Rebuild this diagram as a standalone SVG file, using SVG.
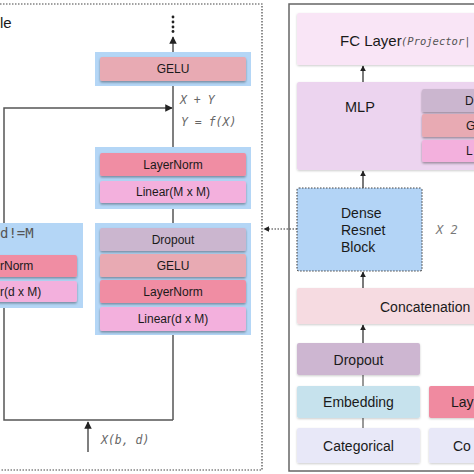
<svg xmlns="http://www.w3.org/2000/svg" width="474" height="474" viewBox="0 0 474 474">
<defs>
<marker id="ah" viewBox="0 0 10 10" refX="9" refY="5" markerWidth="5" markerHeight="5" orient="auto"><path d="M0,0 L10,5 L0,10 z" fill="#222"/></marker>
<filter id="sh" x="-5%" y="-20%" width="110%" height="150%"><feDropShadow dx="0" dy="1.5" stdDeviation="0.8" flood-color="#000" flood-opacity="0.35"/></filter>
<filter id="sh2" x="-5%" y="-20%" width="110%" height="150%"><feDropShadow dx="0" dy="1" stdDeviation="0.8" flood-color="#000" flood-opacity="0.2"/></filter>
</defs>
<style>
.t{font-family:"Liberation Sans",Arial,sans-serif;fill:#1a1a1a;text-anchor:middle;dominant-baseline:central}
.s{font-size:12px}
.l{font-size:14px}
.m{font-family:"DejaVu Sans Mono","Liberation Mono",monospace;font-style:italic;fill:#666;font-size:11.5px;dominant-baseline:central}
.bg{fill:#b4d6f6}
.gelu{fill:#e8aab3}
.ln{fill:#f08da3}
.lin{fill:#f3b0dd}
.drop{fill:#cbb6cf}
.line{stroke:#555;stroke-width:1.5;fill:none}
</style>
<rect width="474" height="474" fill="#fff"/>

<!-- left panel border -->
<path d="M0,4 H262 V470 H0" fill="none" stroke="#444" stroke-width="1.2" stroke-dasharray="1.5,1.5"/>
<text x="0" y="22" class="t" style="text-anchor:start;font-size:15px">le</text>

<!-- right panel border -->
<path d="M474,4 H289 V471 H474" fill="none" stroke="#666" stroke-width="1.5"/>

<g id="connectors">
<path d="M173,420 V335" class="line"/>
<path d="M173,420 H4 V108 H172" class="line" stroke="#333" marker-end="url(#ah)"/>
<path d="M88,452 V422" class="line" stroke="#333" marker-end="url(#ah)"/>
<path d="M173,209 V223" class="line"/>
<path d="M173,86 V147" class="line"/>
<path d="M173,52 V37" class="line" stroke="#333" marker-end="url(#ah)"/>
<circle cx="173" cy="17" r="1.4" fill="#222"/>
<circle cx="173" cy="22" r="1.4" fill="#222"/>
<circle cx="173" cy="27" r="1.4" fill="#222"/>
<circle cx="173" cy="31.5" r="1.4" fill="#222"/>
<path d="M363,82 V66" stroke="#222" stroke-width="1.2" marker-end="url(#ah)"/>
<path d="M363,188 V171" stroke="#222" stroke-width="1.2" marker-end="url(#ah)"/>
<path d="M363,288 V272" stroke="#222" stroke-width="1.2" marker-end="url(#ah)"/>
<path d="M363,343 V325" stroke="#222" stroke-width="1.2" marker-end="url(#ah)"/>
<path d="M363,386 V375" stroke="#555" stroke-width="1.2"/>
<path d="M363,428 V418" stroke="#555" stroke-width="1.2"/>
<path d="M297,229 H264" stroke="#333" stroke-width="1.2" stroke-dasharray="1.5,1.5" marker-end="url(#ah)"/>
</g>

<text x="180" y="100" class="m">X + Y</text>
<text x="181" y="122" class="m">Y = f(X)</text>
<text x="101" y="440" class="m">X(b, d)</text>

<g id="proj">
<rect x="-83" y="223" width="166" height="85" class="bg"/>
<text x="0" y="233" class="m" style="font-style:normal;font-size:14px;fill:#555">d!=M</text>
<rect x="-77" y="255" width="154" height="22" rx="2" class="ln" filter="url(#sh)"/>
<text x="0" y="266" class="t s" style="text-anchor:start">rNorm</text>
<rect x="-77" y="281" width="154" height="21" rx="2" class="lin" filter="url(#sh)"/>
<text x="0" y="291.5" class="t s" style="text-anchor:start">r(d x M)</text>
</g>

<g id="gelu-top">
<rect x="95" y="52" width="156" height="34" class="bg"/>
<rect x="100" y="57" width="146" height="24" rx="2" class="gelu" filter="url(#sh)"/>
<text x="173" y="69" class="t s">GELU</text>
</g>

<g id="block1">
<rect x="95" y="147" width="156" height="62" class="bg"/>
<rect x="100" y="153" width="146" height="23" rx="2" class="ln" filter="url(#sh)"/>
<text x="173" y="164.5" class="t s">LayerNorm</text>
<rect x="100" y="181" width="146" height="22" rx="2" class="lin" filter="url(#sh)"/>
<text x="173" y="192" class="t s">Linear(M x M)</text>
</g>

<g id="block2">
<rect x="95" y="223" width="156" height="112" class="bg"/>
<rect x="100" y="228" width="146" height="23" rx="2" class="drop" filter="url(#sh)"/>
<text x="173" y="239.5" class="t s">Dropout</text>
<rect x="100" y="254" width="146" height="23" rx="2" class="gelu" filter="url(#sh)"/>
<text x="173" y="265.5" class="t s">GELU</text>
<rect x="100" y="280" width="146" height="23" rx="2" class="ln" filter="url(#sh)"/>
<text x="173" y="291.5" class="t s">LayerNorm</text>
<rect x="100" y="307" width="146" height="24" rx="2" class="lin" filter="url(#sh)"/>
<text x="173" y="319" class="t s">Linear(d x M)</text>
</g>

<g id="fc">
<rect x="297" y="13" width="190" height="52" rx="2" fill="#f9e5f6" filter="url(#sh2)"/>
<text x="340" y="40" class="t" style="text-anchor:start;font-size:15px">FC Layer</text>
<text x="401" y="41" class="m" style="fill:#555;font-size:10.5px">(Projector|</text>
</g>

<g id="mlp">
<rect x="297" y="82" width="190" height="88" rx="2" fill="#ecd4ef" filter="url(#sh2)"/>
<text x="345" y="107" class="t" style="text-anchor:start;font-size:14.5px">MLP</text>
<rect x="422" y="89" width="70" height="23" rx="2" class="drop" filter="url(#sh)"/>
<text x="465" y="100.5" class="t s" style="text-anchor:start">D</text>
<rect x="422" y="114" width="70" height="23" rx="2" class="gelu" filter="url(#sh)"/>
<text x="466" y="125.5" class="t s" style="text-anchor:start">G</text>
<rect x="422" y="140" width="70" height="22" rx="2" class="lin" filter="url(#sh)"/>
<text x="466" y="151" class="t s" style="text-anchor:start">L</text>
</g>

<g id="dense">
<rect x="297" y="188" width="125" height="83" rx="2" fill="#b3d4f6" stroke="#444" stroke-width="1.1" stroke-dasharray="1.5,1.5"/>
<text x="341" y="213" class="t l" style="text-anchor:start">Dense</text>
<text x="341" y="230" class="t l" style="text-anchor:start">Resnet</text>
<text x="341" y="247" class="t l" style="text-anchor:start">Block</text>
<text x="436" y="230" class="m" style="fill:#777;font-size:12px">X 2</text>
</g>

<g id="concat">
<rect x="297" y="288" width="190" height="36" rx="2" fill="#f6dbe1" filter="url(#sh2)"/>
<text x="380" y="307" class="t l" style="text-anchor:start">Concatenation</text>
</g>

<g id="dropout-r">
<rect x="297" y="343" width="123" height="32" rx="2" fill="#cdb6d1" filter="url(#sh2)"/>
<text x="358.5" y="359.5" class="t l">Dropout</text>
</g>

<g id="embedding">
<rect x="297" y="386" width="123" height="32" rx="2" fill="#c6e2ed" filter="url(#sh2)"/>
<text x="358.5" y="402" class="t l">Embedding</text>
</g>

<g id="categorical">
<rect x="297" y="428" width="123" height="35" rx="2" fill="#e8e8f8" filter="url(#sh2)"/>
<text x="358.5" y="445.5" class="t l">Categorical</text>
</g>

<g id="layernorm-r">
<rect x="429" y="386" width="80" height="32" rx="2" fill="#f08aa0" filter="url(#sh2)"/>
<text x="451" y="402" class="t l" style="text-anchor:start">Lay</text>
</g>

<g id="continuous">
<rect x="429" y="428" width="80" height="35" rx="2" fill="#e8e8f8" filter="url(#sh2)"/>
<text x="453" y="445.5" class="t l" style="text-anchor:start">Co</text>
</g>
</svg>
